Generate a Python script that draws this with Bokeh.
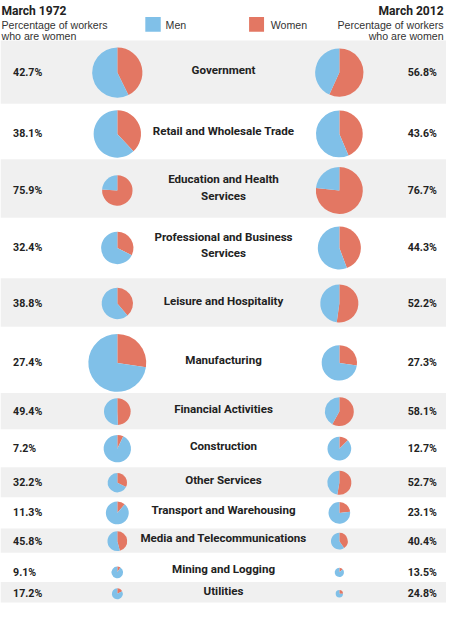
import math
from bokeh.plotting import figure
from bokeh.models import Range1d, ColumnDataSource
from bokeh.embed import file_html
from bokeh.resources import INLINE
from bokeh.core.properties import value

# ---------------- data ----------------
categories = [
    "Government",
    "Retail and Wholesale Trade",
    "Education and Health\nServices",
    "Professional and Business\nServices",
    "Leisure and Hospitality",
    "Manufacturing",
    "Financial Activities",
    "Construction",
    "Other Services",
    "Transport and Warehousing",
    "Media and Telecommunications",
    "Mining and Logging",
    "Utilities",
]
# percentage of workers who are women
women_1972 = [42.7, 38.1, 75.9, 32.4, 38.8, 27.4, 49.4, 7.2, 32.2, 11.3, 45.8, 9.1, 17.2]
women_2012 = [56.8, 43.6, 76.7, 44.3, 52.2, 27.3, 58.1, 12.7, 52.7, 23.1, 40.4, 13.5, 24.8]
# share of total employment (%), shown as pie area (estimated from pie size)
size_1972 = [18.8, 16.7, 6.9, 7.8, 7.3, 25.0, 5.3, 5.6, 2.8, 3.9, 2.9, 1.0, 0.9]
size_2012 = [17.4, 16.3, 16.4, 13.8, 10.8, 9.3, 6.25, 4.2, 4.3, 3.5, 2.1, 0.64, 0.4]

header_left = ["March 1972", "Percentage of workers", "who are women"]
header_right = ["March 2012", "Percentage of workers", "who are women"]
legend_labels = ["Men", "Women"]

# ---------------- layout ----------------
W, H = 462, 620
PW, PH = 446, 604
S = PW / W
row_edges = [41, 106, 163, 223, 285, 335, 403, 440, 479, 510, 542, 567, 597, 618]
row_center = [74, 137, 195, 254, 311, 372, 422, 460, 495, 526, 555, 587, 609]
X72, X12, XLAB = 121, 351, 231
XPL, XPR = 13, 452
K = 6.0  # radius per sqrt(share)

BLUE = "#80c0e8"
RED = "#e37763"
GRAY = "#f0f0f0"
TXT = "#222222"
BOLD = value("Roboto")
REG = value("Liberation Sans")

def fs(px):
    return f"{px * S:.2f}px"

p = figure(width=PW, height=PH, x_range=Range1d(0, W), y_range=Range1d(H, 0),
           output_backend="svg", toolbar_location=None, min_border=0,
           x_axis_location=None, y_axis_location=None)
p.grid.visible = False
p.outline_line_color = None
p.background_fill_color = "white"
p.border_fill_color = "white"

# alternating bands
n = len(categories)
gi = [i for i in range(n) if i % 2 == 0]
p.quad(left=[0] * len(gi), right=[W] * len(gi),
       top=[row_edges[i] for i in gi], bottom=[row_edges[i + 1] for i in gi],
       fill_color=GRAY, line_color=None)

# pies
xs, ys, rs, st, en, cols = [], [], [], [], [], []
for xc, women, size in ((X72, women_1972, size_1972), (X12, women_2012, size_2012)):
    for i in range(n):
        r = K * math.sqrt(size[i])
        a = math.pi / 2 - 2 * math.pi * women[i] / 100.0
        xs.append(xc); ys.append(row_center[i]); rs.append(r)
        st.append(a); en.append(math.pi / 2); cols.append(RED)
        xs.append(xc); ys.append(row_center[i]); rs.append(r)
        st.append(math.pi / 2); en.append(a + 2 * math.pi); cols.append(BLUE)
src = ColumnDataSource(dict(x=xs, y=ys, r=rs, s=st, e=en, c=cols))
p.wedge(x="x", y="y", radius="r", start_angle="s", end_angle="e",
        direction="anticlock", fill_color="c", line_color=None, source=src)

# category labels
p.text(x=[XLAB] * n, y=[c - 3 for c in row_center], text=categories,
       text_align="center", text_baseline="middle", text_font=BOLD,
       text_font_style="bold", text_font_size=fs(12), text_color=TXT,
       text_line_height=1.2)

# percent labels
p.text(x=[XPL] * n, y=row_center, text=[f"{v:.1f}%" for v in women_1972],
       text_align="left", text_baseline="middle", text_font=BOLD,
       text_font_style="bold", text_font_size=fs(11), text_color=TXT)
p.text(x=[XPR] * n, y=row_center, text=[f"{v:.1f}%" for v in women_2012],
       text_align="right", text_baseline="middle", text_font=BOLD,
       text_font_style="bold", text_font_size=fs(11), text_color=TXT)

# headers
p.text(x=[1], y=[11], text=[header_left[0]], text_align="left",
       text_baseline="alphabetic", text_font=BOLD, text_font_style="bold",
       text_font_size=fs(12.5), text_color=TXT)
p.text(x=[459], y=[11], text=[header_right[0]], text_align="right",
       text_baseline="alphabetic", text_font=BOLD, text_font_style="bold",
       text_font_size=fs(12.5), text_color=TXT)
p.text(x=[1, 1], y=[25.5, 36.5], text=header_left[1:], text_align="left",
       text_baseline="alphabetic", text_font=REG, text_font_size=fs(11),
       text_color="#333333")
p.text(x=[459, 459], y=[25.5, 36.5], text=header_right[1:], text_align="right",
       text_baseline="alphabetic", text_font=REG, text_font_size=fs(11),
       text_color="#333333")

# legend
p.quad(left=[150, 257.5], right=[166, 273], top=[17, 17], bottom=[32, 32],
       fill_color=[BLUE, RED], line_color=None)
p.text(x=[171, 280], y=[25, 25], text=legend_labels, text_align="left",
       text_baseline="middle", text_font=REG, text_font_size=fs(11),
       text_color="#333333")

open("out.html", "w").write(file_html(p, INLINE))
